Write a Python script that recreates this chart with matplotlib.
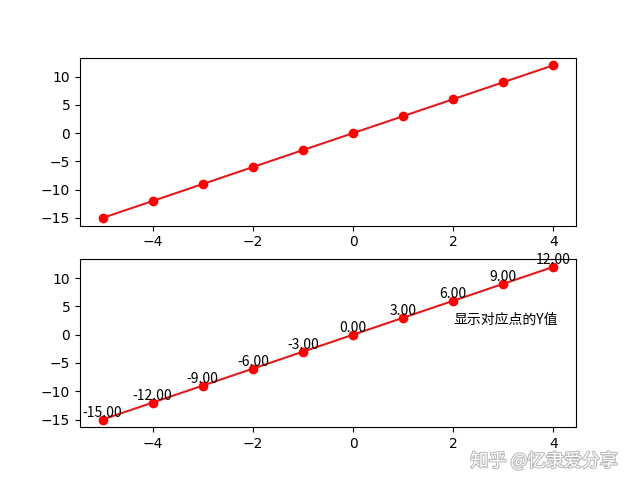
import numpy as np
import matplotlib
matplotlib.use("Agg")
import matplotlib.pyplot as plt
import matplotlib.patheffects as pe

# ================= DATA =================
x_vals = [-5, -4, -3, -2, -1, 0, 1, 2, 3, 4]
y_vals = [-15, -12, -9, -6, -3, 0, 3, 6, 9, 12]
note_text = "显示对应点的Y值"
note_pos = (2, 2)
watermark = "知乎 @忆隶爱分享"

cjk = ["Noto Sans CJK SC", "DejaVu Sans"]

fig = plt.figure(figsize=(6.4, 4.8), dpi=100)

# ================= TOP =================
ax1 = fig.add_subplot(211)
ax1.plot(x_vals, y_vals, color="#e31a1c", marker="o", markersize=6,
         markerfacecolor="red", markeredgecolor="red")

# ================= BOTTOM =================
ax2 = fig.add_subplot(212)
ax2.plot(x_vals, y_vals, color="#e31a1c", marker="o", markersize=6,
         markerfacecolor="red", markeredgecolor="red")
for xv, yv in zip(x_vals, y_vals):
    ax2.text(xv, yv, "%.2f" % yv, ha="center", va="bottom",
             fontsize=10, family=cjk)
ax2.text(note_pos[0], note_pos[1], note_text, fontsize=10, family=cjk)

# watermark
fig.text(0.735, 0.028, watermark, fontsize=13, family=cjk, color="white",
         path_effects=[pe.withStroke(linewidth=1.5, foreground="#b8b8b8")])

fig.savefig("out.png")
